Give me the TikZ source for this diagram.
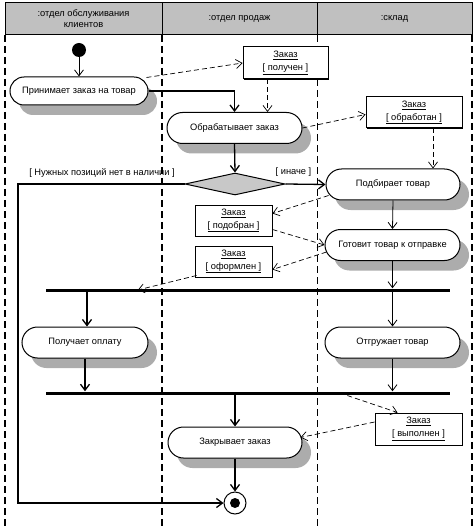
\documentclass[tikz,border=0pt]{standalone}
\usepackage{fontspec}
\setmainfont{Liberation Sans}
\usetikzlibrary{arrows.meta,shapes.geometric,shadows,calc}
\definecolor{hdrgray}{RGB}{192,192,192}
\definecolor{shadgray}{RGB}{172,172,172}
\definecolor{diagray}{RGB}{200,200,200}
\tikzset{
  txt/.style={font=\fontsize{9.3}{11}\selectfont},
  hdr/.style={draw, line width=1pt, fill=hdrgray, inner sep=0pt, align=center, txt},
  act/.style={draw, line width=1pt, fill=white, rounded corners=15.5pt, minimum height=31pt, inner sep=0pt, txt,
    drop shadow={shadow xshift=9pt, shadow yshift=-10pt, fill=shadgray, opacity=1}},
  objbox/.style={draw, line width=1pt, fill=white, inner sep=0pt, align=center, font=\fontsize{9.3}{13}\selectfont,
    drop shadow={shadow xshift=1pt, shadow yshift=-1pt, fill=black, opacity=1}},
  bar/.style={fill=black, inner sep=0pt, minimum width=404pt, minimum height=3pt},
  flow/.style={line width=1.3pt, -{Straight Barb[length=6pt,width=9pt,line width=1.3pt]}},
  thinflow/.style={line width=0.8pt, -{Straight Barb[length=6pt,width=9pt,line width=0.8pt]}},
  oflow/.style={line width=0.7pt, dash pattern=on 5pt off 3pt, -{Straight Barb[length=6pt,width=9pt,line width=0.7pt]}},
  lanethick/.style={line width=1.5pt, dash pattern=on 7pt off 4pt},
  lanethin/.style={line width=0.7pt, dash pattern=on 7pt off 4pt},
  guard/.style={txt, inner sep=0pt},
}
\begin{document}
\begin{tikzpicture}[x=1pt,y=-1pt]
\useasboundingbox (0,0) rectangle (474,529);
% header
\node[hdr, minimum width=157pt, minimum height=32pt] (h1) at (83.5,19) {:отдел обслуживания\\клиентов};
\node[hdr, minimum width=155pt, minimum height=32pt] (h2) at (239.5,19) {:отдел продаж};
\node[hdr, minimum width=155pt, minimum height=32pt] (h3) at (394.5,19) {:склад};
% lanes
\draw[lanethick] (5,35) -- (5,528);
\draw[lanethick] (162,35) -- (162,528);
\draw[lanethin] (317,35) -- (317,528);
\draw[lanethick] (472,35) -- (472,528);
% nodes
\node[circle, fill=black, minimum size=14pt, inner sep=0pt] (init) at (79,50) {};
\node[act, minimum width=138pt, minimum height=28pt, rounded corners=14pt] (a1) at (79,91) {Принимает заказ на товар};
\node[act, minimum width=135pt] (a2) at (234.5,128) {Обрабатывает заказ};
\node[act, minimum width=134pt] (a3) at (393,184.5) {Подбирает товар};
\node[act, minimum width=135pt] (a4) at (392.5,245) {Готовит товар к отправке};
\node[act, minimum width=126pt] (a5) at (85,342.5) {Получает оплату};
\node[act, minimum width=135pt] (a6) at (392.5,342.5) {Отгружает товар};
\node[act, minimum width=134pt] (a7) at (235,442.5) {Закрывает заказ};
\node[objbox, minimum width=85pt, minimum height=32pt] (o1) at (285.5,63) {\underline{Заказ}\\\underline{[ получен ]}};
\node[objbox, minimum width=96pt, minimum height=31pt] (o2) at (414,112.5) {\underline{Заказ}\\\underline{[ обработан ]}};
\node[objbox, minimum width=77pt, minimum height=31pt] (o3) at (233.5,220.5) {\underline{Заказ}\\\underline{[ подобран ]}};
\node[objbox, minimum width=77pt, minimum height=31pt] (o4) at (233.5,261.5) {\underline{Заказ}\\\underline{[ оформлен ]}};
\node[objbox, minimum width=87pt, minimum height=32pt] (o5) at (418.5,429) {\underline{Заказ}\\\underline{[ выполнен ]}};
\node[diamond, draw, line width=1pt, fill=diagray, aspect=4.55, minimum width=100pt, minimum height=22pt, inner sep=0pt] (dia) at (235,184) {};
\node[bar] (b1) at (248,290) {};
\node[bar] (b2) at (248,393) {};
\node[circle, draw, line width=1pt, fill=white, minimum size=22pt, inner sep=0pt,
  path picture={\fill[black] (path picture bounding box.center) circle (5pt);}] (fin) at (235,503) {};
\coordinate (lft) at (18,184);
% guards
\node[guard] (g1) at (102,173) {[ Нужных позиций нет в наличии ]};
\node[guard] (g2) at (293.5,172) {[ иначе ]};
% control flows
\draw[thinflow] (init) -- (a1);
\draw[flow] (a1.east) -| (a2.north);
\draw[flow] (a2.south) -- (dia.north);
\draw[flow] (dia.east) -- (a3.west);
\draw[flow] (dia.west) -- (lft) |- (fin.west);
\draw[thinflow] (a3.south) -- (a4.north);
\draw[thinflow] (a4.south) -- (a4.south |- b1.north);
\draw[flow] ($(a5.north |- b1.south)+(2,0)$) -- ($(a5.north)+(2,0)$);
\draw[thinflow] (a6.north |- b1.south) -- (a6.north);
\draw[flow] (a5.south) -- (a5.south |- b2.north);
\draw[thinflow] (a6.south) -- (a6.south |- b2.north);
\draw[flow] (a7.north |- b2.south) -- (a7.north);
\draw[flow] (a7.south) -- (fin.north);
% object flows
\draw[oflow] ($(a1.north east)+(-2,1)$) -- (o1.west);
\draw[oflow] ($(o1.south)+(-18,0)$) -- ($(o1.south |- a2.north)+(-18,0)$);
\draw[oflow] (a2.east) -- ($(o2.west)+(0,2)$);
\draw[oflow] ($(o2.south)+(19,0)$) -- ($(o2.south |- a3.north)+(19,0)$);
\draw[oflow] ($(a3.west)+(3,11)$) -- ($(o3.east)+(0,-7)$);
\draw[oflow] ($(o3.east)+(0,9)$) -- (a4.west);
\draw[oflow] ($(a4.west)+(2,7)$) -- ($(o4.east)+(0,8)$);
\draw[oflow] ($(o4.south west)+(2,-2)$) -- ($(b1.west)+(92,0)$);
\draw[oflow] ($(b2.west)+(294,0)$) -- ($(o5.north west)+(23,0)$);
\draw[oflow] ($(o5.west)+(0,-7)$) -- ($(a7.east)+(-2,-5)$);
\end{tikzpicture}
\end{document}
